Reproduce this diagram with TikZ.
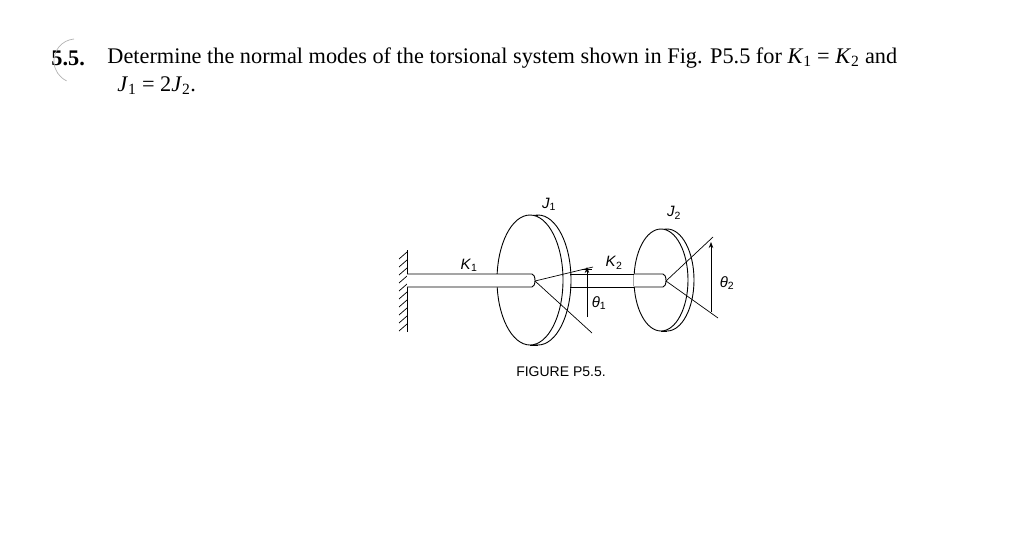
\documentclass[tikz,border=0pt]{standalone}
\usepackage{fontspec}
\setmainfont{Liberation Serif}
\setsansfont{Liberation Sans}
\usetikzlibrary{arrows.meta}
\newcommand{\lab}[2]{\textit{#1}\textsubscript{#2}}
\begin{document}
\begin{tikzpicture}[x=1pt,y=-1pt,line width=0.9pt,
  lbl/.style={font=\sffamily\fontsize{15}{15}\selectfont},
  ln/.style={line width=0.7pt},
  txt/.style={anchor=west,inner sep=0,font=\fontsize{22.3}{24}\selectfont}]
\useasboundingbox (0,0) rectangle (1024,549);
% text
\node[txt] (n0) at (51,58) {\textbf{5.5.}};
\node[txt] (t1) at (107,58) {Determine the normal modes of the torsional system shown in Fig. P5.5 for \textit{K}\textsubscript{1} = \textit{K}\textsubscript{2} and};
\node[txt] (t2) at (117,86) {\textit{J}\textsubscript{1} = 2\textit{J}\textsubscript{2}.};
\draw[gray!60,line width=0.7pt] (74,39) arc[start angle=-95,end angle=-245,radius=22];
% wall
\draw[line width=1pt] (407,250) -- (407,332);
\foreach \y in {252,260,...,328} \draw[ln] (407,\y) -- (399,\y+7);
% disk J1
\draw[fill=white] (538,280) ellipse (33 and 65);
\draw (530,215) -- (538,215);
\draw (530,345) -- (538,345);
\draw[fill=white] (530,280) ellipse (33 and 65);
% shaft 1
\draw[fill=white] (407,274) -- (532,274) arc (-90:90:3 and 6.5) -- (407,287);
% shaft 2
\draw (570,274) -- (663,274);
\draw (570,287) -- (663,287);
% disk J2
\draw (667,280) ellipse (27 and 51);
\draw (661,229) -- (667,229);
\draw (661,331) -- (667,331);
\draw[fill=white] (661,280) ellipse (27 and 51);
\draw[fill=white] (634,274) -- (663,274) arc (-90:90:3 and 6.5) -- (634,287);
% angle lines
\coordinate (c1) at (535,281);
\coordinate (c2) at (666,281);
\draw[ln] (c1) -- (593,267);
\draw[ln] (c1) -- (592,333);
\draw[ln,-{Stealth[length=6pt]}] (587,317) -- (587,267);
\draw[ln] (582,269) -- (592,269);
\draw[ln] (c2) -- (713,237);
\draw[ln] (c2) -- (718,318);
\draw[ln,-{Stealth[length=6pt]}] (711,312) -- (711,242);
% labels
\node[lbl] (J1) at (549,204) {\lab{J}{1}};
\node[lbl] (J2) at (674,213) {\lab{J}{2}};
\node[lbl] (K1) at (469,265) {\lab{K}{1}};
\node[lbl] (K2) at (614,263) {\lab{K}{2}};
\node[lbl] (th1) at (599,303) {\lab{θ}{1}};
\node[lbl] (th2) at (727,283) {\lab{θ}{2}};
\node[font=\sffamily\fontsize{14}{14}\selectfont] (fig) at (561,372) {FIGURE P5.5.};
\end{tikzpicture}
\end{document}
